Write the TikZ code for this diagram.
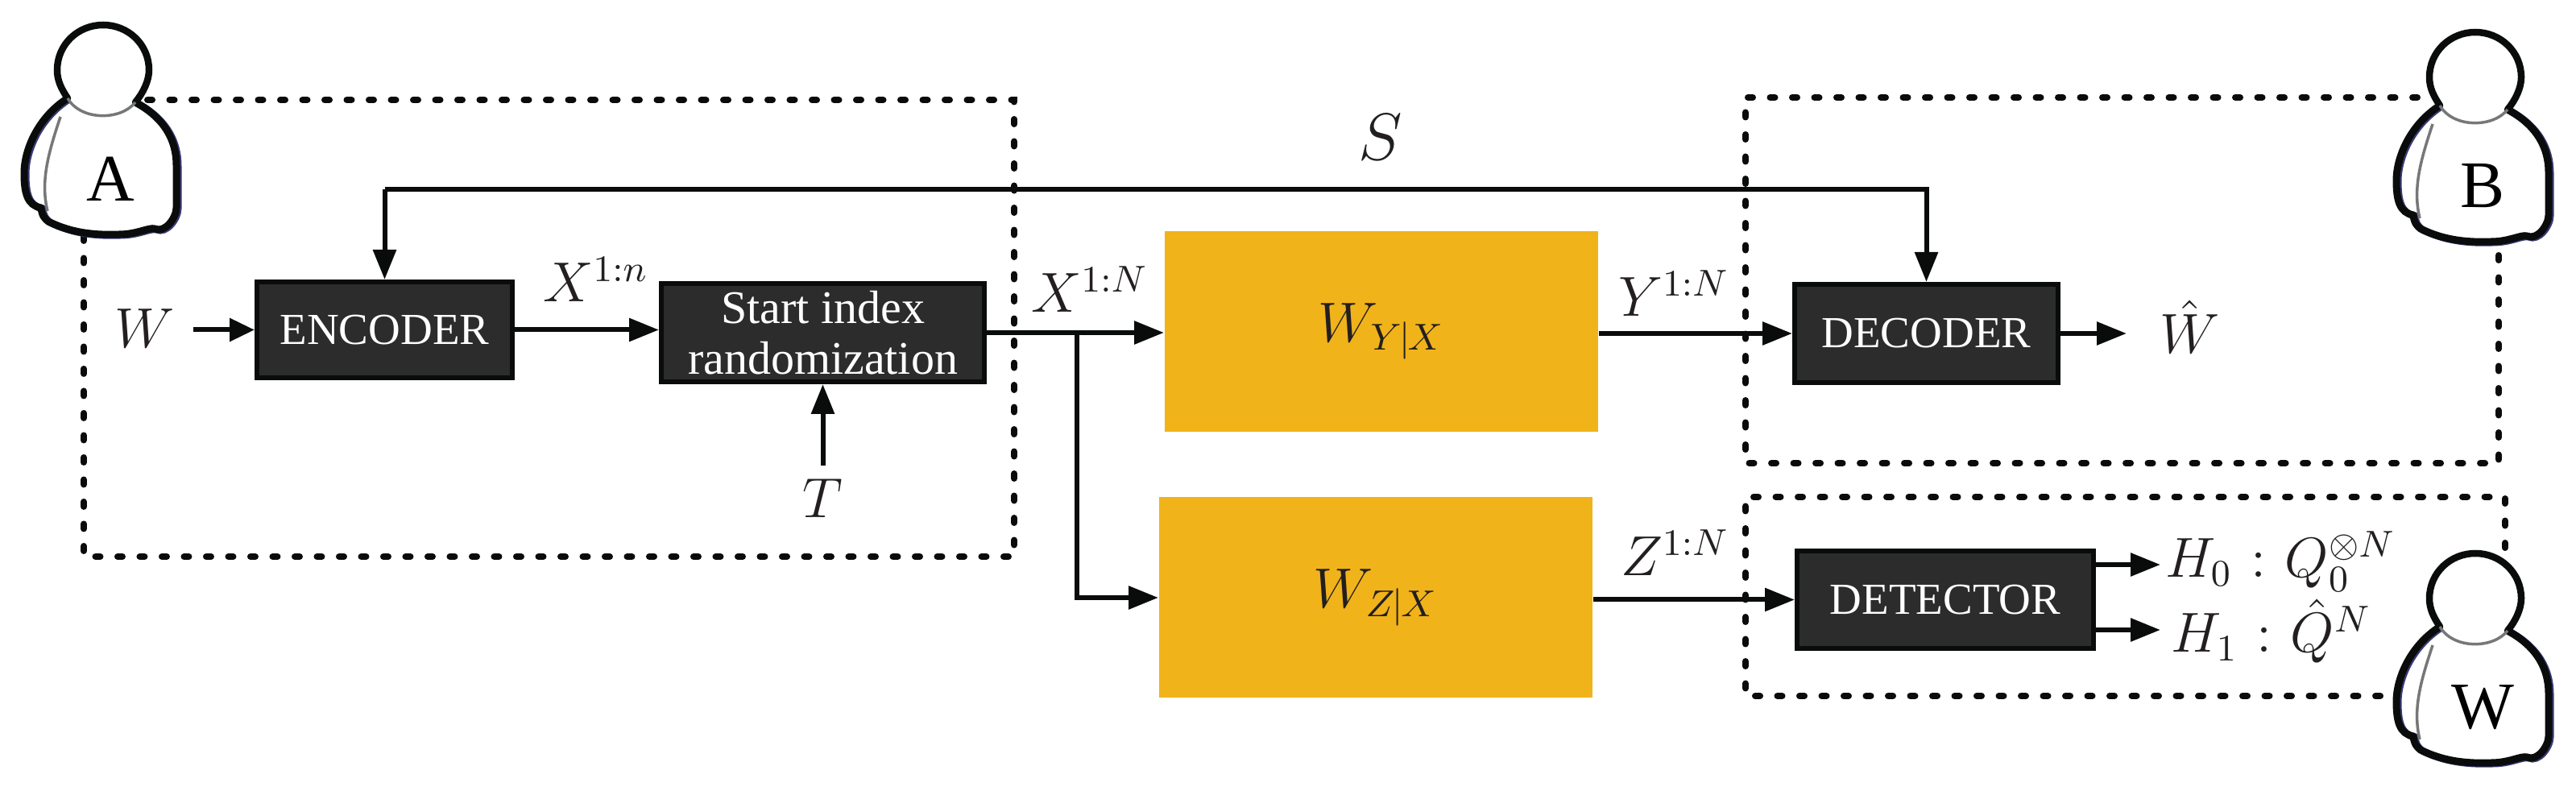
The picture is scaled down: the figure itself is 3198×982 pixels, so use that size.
\RequirePackage{fix-cm}
\documentclass[tikz,border=0pt]{standalone}
\usepackage{fontspec}
\newfontfamily\boxfont{Liberation Serif}
\usetikzlibrary{arrows.meta}
\DeclareMathSizes{14}{14}{9.3}{7}
\DeclareMathSizes{16.5}{16.5}{11}{8}
\definecolor{ink}{HTML}{231F20}
\definecolor{boxfill}{HTML}{2B2C2B}
\definecolor{boxline}{HTML}{0A0C0C}
\definecolor{amber}{HTML}{F1B31A}
\definecolor{neckgray}{HTML}{777777}
\definecolor{edgeblue}{HTML}{3A3A78}
\tikzset{
  x=0.2pt, y=-0.2pt,
  dark/.style={draw=boxline, line width=1.2pt, fill=boxfill, text=white, inner sep=0pt, align=center,
    font=\boxfont\fontsize{11}{12}\selectfont},
  channel/.style={fill=amber, inner sep=0pt, minimum width=107.6pt, minimum height=49.8pt, text=ink,
    font=\fontsize{14}{17}\selectfont},
  mlabel/.style={anchor=base west, inner sep=0pt, text=ink, font=\fontsize{14}{17}\selectfont},
  clabel/.style={inner sep=0pt, text=ink, font=\fontsize{14}{17}\selectfont},
  tagname/.style={inner sep=0pt, text=black, font=\boxfont\fontsize{16.5}{19}\selectfont},
  wire/.style={draw=boxline, line width=1.2pt, -{Triangle[length=7.4pt,width=5.6pt]}},
  shortwire/.style={draw=boxline, line width=1.2pt, -{Triangle[length=6.2pt,width=5.6pt]}},
  fence/.style={draw=boxline, line width=1.6pt, line cap=round, dash pattern=on 1.2pt off 4.3pt},
}
\newcommand{\personfig}[4]{%
  \begin{scope}[shift={(#1,#2)}]
    \def\bodypath{(84,122) .. controls (48,145) and (30,185) .. (30,215)
      .. controls (30,240) and (34,255) .. (51,258)
      .. controls (52,268) and (56,272) .. (60,275)
      .. controls (90,290) and (120,292) .. (148,291)
      .. controls (170,291) and (185,282) .. (192,284)
      .. controls (205,290) and (219,270) .. (219,258)
      -- (219,205) .. controls (219,175) and (205,147) .. (168,127)}
    \fill[white] \bodypath -- cycle;
    \draw[edgeblue, line width=1.8pt, shift={(2,1)}] \bodypath;
    \draw[boxline, line width=1.8pt, line cap=round, line join=round] \bodypath;
    \fill[white] (128,87) ellipse [x radius=57, y radius=56];
    \draw[boxline, line width=1.7pt, line cap=round] (84,122) .. controls (76,110) and (71,100) .. (71,87)
      .. controls (71,55) and (97,31) .. (128,31) .. controls (159,31) and (185,55) .. (185,87)
      .. controls (185,100) and (178,115) .. (168,127);
    \draw[neckgray, line width=0.7pt] (84,122) .. controls (100,150) and (150,150) .. (168,127);
    \draw[neckgray, line width=0.7pt] (75,145) .. controls (60,190) and (50,225) .. (59,262);
    \node[tagname] (#3) at (137,222) {#4};
  \end{scope}}
\begin{document}
\begin{tikzpicture}
\useasboundingbox (0,0) rectangle (3198,982);

% dotted enclosures
\draw[fence] (183,124) -- (1259,124) -- (1259,691) -- (104,691) -- (104,292);
\draw[fence] (3001,121) -- (2167,121) -- (2167,575) -- (3102,575) -- (3102,312);
\draw[fence] (2955,864) -- (2167,864) -- (2167,617) -- (3110,617) -- (3110,697);

% persons
\personfig{0}{0}{alice}{A}
\personfig{2945}{9}{bob}{B}
\personfig{2945}{656}{warden}{W}

% blocks
\node[dark, minimum width=63.4pt, minimum height=23.8pt] (encoder) at (477.5,409.5) {ENCODER};
\node[dark, minimum width=80.2pt, minimum height=24.4pt, font=\boxfont\fontsize{11.6}{12.7}\selectfont] (start) at (1021.5,413) {Start index\\randomization};
\node[dark, minimum width=65.4pt, minimum height=24.4pt] (decoder) at (2391.5,414) {DECODER};
\node[dark, minimum width=73.6pt, minimum height=24.2pt] (detector) at (2415,744.5) {DETECTOR};
\node[channel] (wy) at (1715,411.5) {$W_{Y\mkern-1mu|\mkern-1mu X}$};
\node[channel] (wz) at (1708,742) {$W_{Z\mkern-1mu|\mkern-1mu X}$};

% text labels
\node[clabel] (wmsg) at (180,408) {$W$};
\node[clabel] (tkey) at (1021,619) {$T$};
\node[clabel, font=\fontsize{16.5}{20}\selectfont] (skey) at (1714,170) {$S$};
\node[mlabel] (xn) at (673,375) {$X^{1:n}$};
\node[mlabel] (xbign) at (1279,388) {$X^{1:N}$};
\node[mlabel] (ybign) at (2008,393) {$Y^{1:N}$};
\node[mlabel] (zbign) at (2011,715) {$Z^{1:N}$};
\node[mlabel] (what) at (2680,439) {$\hat{W}$};
\node[mlabel] (hzero) at (2687,717) {$H_0\mkern6mu{:}\mkern6mu Q_0^{\otimes N}$};
\node[mlabel] (hone) at (2694,810) {$H_1\mkern6mu{:}\mkern6mu \hat{Q}^{N}$};

% free ends
\coordinate (wtail) at (240,409.5);
\coordinate (ttail) at (1021.5,578);
\coordinate (stop) at (477.5,235);
\coordinate (branch) at (1337,413);
\coordinate (whattip) at (2640,414);
\coordinate (h0tip) at (2682,701);
\coordinate (h1tip) at (2682,782);

% connectors
\draw[shortwire] (wtail) -- (encoder.west);
\draw[wire] (encoder.east) -- (encoder.east -| start.west);
\draw[wire] (ttail) -- (start.south);
\draw[wire] (start.east) -- (start.east -| wy.west);
\draw[wire] (branch) |- (wz.west);
\draw[wire] (stop) -- (encoder.north);
\draw[wire] (stop) -| (decoder.north);
\draw[wire] (wy.east |- decoder.west) -- (decoder.west);
\draw[wire] (decoder.east) -- (whattip);
\draw[wire] (wz.east |- detector.west) -- (detector.west);
\draw[wire] (detector.east |- h0tip) -- (h0tip);
\draw[wire] (detector.east |- h1tip) -- (h1tip);
\end{tikzpicture}
\end{document}
